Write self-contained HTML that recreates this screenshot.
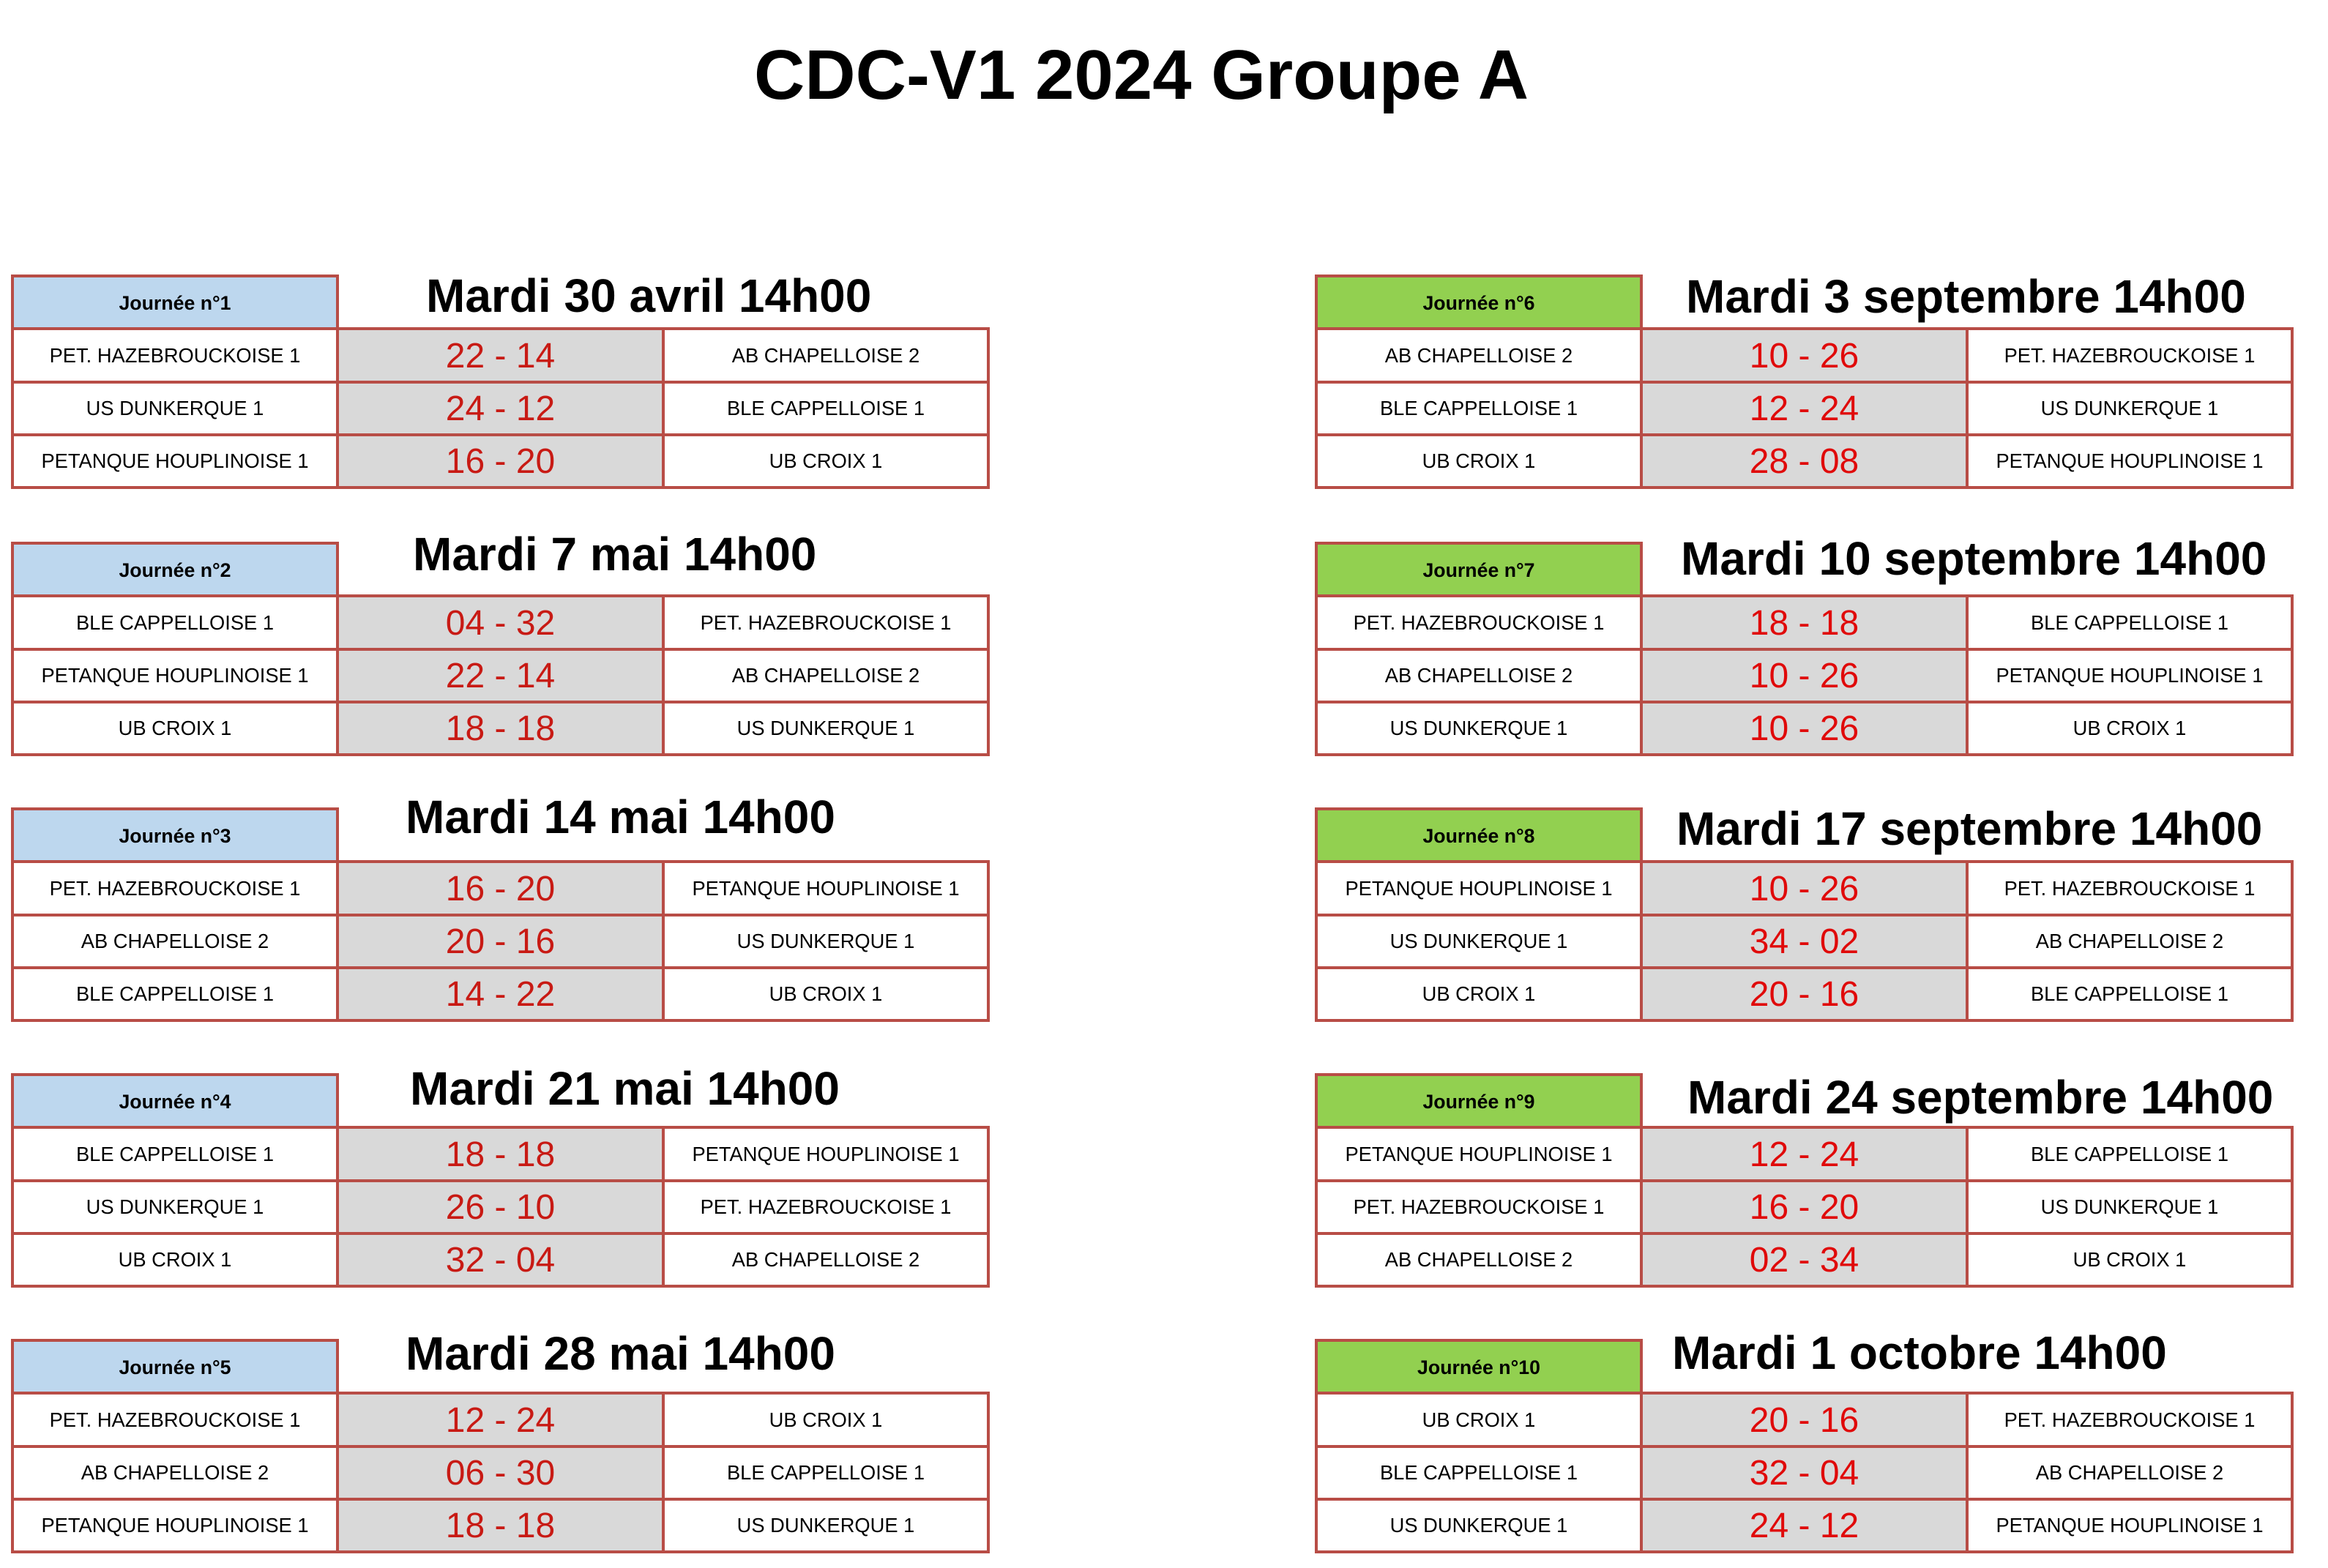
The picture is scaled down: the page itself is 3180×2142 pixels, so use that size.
<!DOCTYPE html>
<html><head><meta charset="utf-8">
<style>
html,body{margin:0;padding:0;background:#fff}
body{width:3180px;height:2142px;position:relative;overflow:hidden;font-family:"Liberation Sans",Arial,sans-serif}
.main{position:absolute;left:0;top:55px;width:3118px;text-align:center;font:bold 96px/96px "Liberation Sans",Arial,sans-serif;color:#000;white-space:nowrap}
.d{position:absolute;font:bold 64px/64px "Liberation Sans",Arial,sans-serif;color:#000;white-space:nowrap}
.b{position:absolute;width:1337px;height:293px}
.hb{position:absolute;left:2px;top:2px;width:444px;height:72px}
.blue{background:#bdd7ee}.green{background:#92d050}
.ht{position:absolute;left:4px;top:4px;width:440px;height:70px;display:flex;align-items:center;justify-content:center;font:bold 26.7px "Liberation Sans",Arial,sans-serif;color:#000;white-space:nowrap}
.sg{position:absolute;left:446px;top:74px;width:445px;height:217px;background:#d9d9d9}
.hl{position:absolute;left:0;height:4px;background:#b84d46}
.vl{position:absolute;width:4px;background:#b84d46}
.c{position:absolute;height:70px;display:flex;align-items:center;justify-content:center;white-space:nowrap}
.c1{left:4px;width:440px}.c2{left:448px;width:441px}.c3{left:893px;width:440px}
.r1{top:76px}.r2{top:148px}.r3{top:220px}
.t{font-size:27.3px;color:#000}
.s{font-size:48px;color:#c81a14}
.sr{font-size:48px;color:#e00a0a}
</style></head><body>

<div class="main">CDC-V1 2024 Groupe A</div>

<div class="d" style="left:582px;top:372px">Mardi 30 avril 14h00</div>
<div class="d" style="left:564px;top:725px">Mardi 7 mai 14h00</div>
<div class="d" style="left:554px;top:1084px">Mardi 14 mai 14h00</div>
<div class="d" style="left:560px;top:1455px">Mardi 21 mai 14h00</div>
<div class="d" style="left:554px;top:1817px">Mardi 28 mai 14h00</div>
<div class="d" style="left:2303px;top:373px">Mardi 3 septembre 14h00</div>
<div class="d" style="left:2296px;top:731px">Mardi 10 septembre 14h00</div>
<div class="d" style="left:2290px;top:1100px">Mardi 17 septembre 14h00</div>
<div class="d" style="left:2305px;top:1467px">Mardi 24 septembre 14h00</div>
<div class="d" style="left:2284px;top:1816px">Mardi 1 octobre 14h00</div>

<!-- J1 -->
<div class="b" style="left:15px;top:375px">
<div class="hb blue"></div><div class="sg"></div>
<div class="ht">Journée n°1</div>
<div class="c c1 r1 t">PET. HAZEBROUCKOISE 1</div><div class="c c2 r1 s">22 - 14</div><div class="c c3 r1 t">AB CHAPELLOISE 2</div>
<div class="c c1 r2 t">US DUNKERQUE 1</div><div class="c c2 r2 s">24 - 12</div><div class="c c3 r2 t">BLE CAPPELLOISE 1</div>
<div class="c c1 r3 t">PETANQUE HOUPLINOISE 1</div><div class="c c2 r3 s">16 - 20</div><div class="c c3 r3 t">UB CROIX 1</div>
<div class="hl" style="top:0;width:448px"></div><div class="hl" style="top:72px;width:1337px"></div><div class="hl" style="top:145px;width:1337px"></div><div class="hl" style="top:217px;width:1337px"></div><div class="hl" style="top:289px;width:1337px"></div>
<div class="vl" style="left:0;top:0;height:293px"></div><div class="vl" style="left:444px;top:0;height:293px"></div><div class="vl" style="left:889px;top:72px;height:221px"></div><div class="vl" style="left:1333px;top:72px;height:221px"></div>
</div>

<!-- J2 -->
<div class="b" style="left:15px;top:740px">
<div class="hb blue"></div><div class="sg"></div>
<div class="ht">Journée n°2</div>
<div class="c c1 r1 t">BLE CAPPELLOISE 1</div><div class="c c2 r1 s">04 - 32</div><div class="c c3 r1 t">PET. HAZEBROUCKOISE 1</div>
<div class="c c1 r2 t">PETANQUE HOUPLINOISE 1</div><div class="c c2 r2 s">22 - 14</div><div class="c c3 r2 t">AB CHAPELLOISE 2</div>
<div class="c c1 r3 t">UB CROIX 1</div><div class="c c2 r3 s">18 - 18</div><div class="c c3 r3 t">US DUNKERQUE 1</div>
<div class="hl" style="top:0;width:448px"></div><div class="hl" style="top:72px;width:1337px"></div><div class="hl" style="top:145px;width:1337px"></div><div class="hl" style="top:217px;width:1337px"></div><div class="hl" style="top:289px;width:1337px"></div>
<div class="vl" style="left:0;top:0;height:293px"></div><div class="vl" style="left:444px;top:0;height:293px"></div><div class="vl" style="left:889px;top:72px;height:221px"></div><div class="vl" style="left:1333px;top:72px;height:221px"></div>
</div>

<!-- J3 -->
<div class="b" style="left:15px;top:1103px">
<div class="hb blue"></div><div class="sg"></div>
<div class="ht">Journée n°3</div>
<div class="c c1 r1 t">PET. HAZEBROUCKOISE 1</div><div class="c c2 r1 s">16 - 20</div><div class="c c3 r1 t">PETANQUE HOUPLINOISE 1</div>
<div class="c c1 r2 t">AB CHAPELLOISE 2</div><div class="c c2 r2 s">20 - 16</div><div class="c c3 r2 t">US DUNKERQUE 1</div>
<div class="c c1 r3 t">BLE CAPPELLOISE 1</div><div class="c c2 r3 s">14 - 22</div><div class="c c3 r3 t">UB CROIX 1</div>
<div class="hl" style="top:0;width:448px"></div><div class="hl" style="top:72px;width:1337px"></div><div class="hl" style="top:145px;width:1337px"></div><div class="hl" style="top:217px;width:1337px"></div><div class="hl" style="top:289px;width:1337px"></div>
<div class="vl" style="left:0;top:0;height:293px"></div><div class="vl" style="left:444px;top:0;height:293px"></div><div class="vl" style="left:889px;top:72px;height:221px"></div><div class="vl" style="left:1333px;top:72px;height:221px"></div>
</div>

<!-- J4 -->
<div class="b" style="left:15px;top:1466px">
<div class="hb blue"></div><div class="sg"></div>
<div class="ht">Journée n°4</div>
<div class="c c1 r1 t">BLE CAPPELLOISE 1</div><div class="c c2 r1 s">18 - 18</div><div class="c c3 r1 t">PETANQUE HOUPLINOISE 1</div>
<div class="c c1 r2 t">US DUNKERQUE 1</div><div class="c c2 r2 s">26 - 10</div><div class="c c3 r2 t">PET. HAZEBROUCKOISE 1</div>
<div class="c c1 r3 t">UB CROIX 1</div><div class="c c2 r3 s">32 - 04</div><div class="c c3 r3 t">AB CHAPELLOISE 2</div>
<div class="hl" style="top:0;width:448px"></div><div class="hl" style="top:72px;width:1337px"></div><div class="hl" style="top:145px;width:1337px"></div><div class="hl" style="top:217px;width:1337px"></div><div class="hl" style="top:289px;width:1337px"></div>
<div class="vl" style="left:0;top:0;height:293px"></div><div class="vl" style="left:444px;top:0;height:293px"></div><div class="vl" style="left:889px;top:72px;height:221px"></div><div class="vl" style="left:1333px;top:72px;height:221px"></div>
</div>

<!-- J5 -->
<div class="b" style="left:15px;top:1829px">
<div class="hb blue"></div><div class="sg"></div>
<div class="ht">Journée n°5</div>
<div class="c c1 r1 t">PET. HAZEBROUCKOISE 1</div><div class="c c2 r1 s">12 - 24</div><div class="c c3 r1 t">UB CROIX 1</div>
<div class="c c1 r2 t">AB CHAPELLOISE 2</div><div class="c c2 r2 s">06 - 30</div><div class="c c3 r2 t">BLE CAPPELLOISE 1</div>
<div class="c c1 r3 t">PETANQUE HOUPLINOISE 1</div><div class="c c2 r3 s">18 - 18</div><div class="c c3 r3 t">US DUNKERQUE 1</div>
<div class="hl" style="top:0;width:448px"></div><div class="hl" style="top:72px;width:1337px"></div><div class="hl" style="top:145px;width:1337px"></div><div class="hl" style="top:217px;width:1337px"></div><div class="hl" style="top:289px;width:1337px"></div>
<div class="vl" style="left:0;top:0;height:293px"></div><div class="vl" style="left:444px;top:0;height:293px"></div><div class="vl" style="left:889px;top:72px;height:221px"></div><div class="vl" style="left:1333px;top:72px;height:221px"></div>
</div>

<!-- J6 -->
<div class="b" style="left:1796px;top:375px">
<div class="hb green"></div><div class="sg"></div>
<div class="ht">Journée n°6</div>
<div class="c c1 r1 t">AB CHAPELLOISE 2</div><div class="c c2 r1 sr">10 - 26</div><div class="c c3 r1 t">PET. HAZEBROUCKOISE 1</div>
<div class="c c1 r2 t">BLE CAPPELLOISE 1</div><div class="c c2 r2 sr">12 - 24</div><div class="c c3 r2 t">US DUNKERQUE 1</div>
<div class="c c1 r3 t">UB CROIX 1</div><div class="c c2 r3 sr">28 - 08</div><div class="c c3 r3 t">PETANQUE HOUPLINOISE 1</div>
<div class="hl" style="top:0;width:448px"></div><div class="hl" style="top:72px;width:1337px"></div><div class="hl" style="top:145px;width:1337px"></div><div class="hl" style="top:217px;width:1337px"></div><div class="hl" style="top:289px;width:1337px"></div>
<div class="vl" style="left:0;top:0;height:293px"></div><div class="vl" style="left:444px;top:0;height:293px"></div><div class="vl" style="left:889px;top:72px;height:221px"></div><div class="vl" style="left:1333px;top:72px;height:221px"></div>
</div>

<!-- J7 -->
<div class="b" style="left:1796px;top:740px">
<div class="hb green"></div><div class="sg"></div>
<div class="ht">Journée n°7</div>
<div class="c c1 r1 t">PET. HAZEBROUCKOISE 1</div><div class="c c2 r1 sr">18 - 18</div><div class="c c3 r1 t">BLE CAPPELLOISE 1</div>
<div class="c c1 r2 t">AB CHAPELLOISE 2</div><div class="c c2 r2 sr">10 - 26</div><div class="c c3 r2 t">PETANQUE HOUPLINOISE 1</div>
<div class="c c1 r3 t">US DUNKERQUE 1</div><div class="c c2 r3 sr">10 - 26</div><div class="c c3 r3 t">UB CROIX 1</div>
<div class="hl" style="top:0;width:448px"></div><div class="hl" style="top:72px;width:1337px"></div><div class="hl" style="top:145px;width:1337px"></div><div class="hl" style="top:217px;width:1337px"></div><div class="hl" style="top:289px;width:1337px"></div>
<div class="vl" style="left:0;top:0;height:293px"></div><div class="vl" style="left:444px;top:0;height:293px"></div><div class="vl" style="left:889px;top:72px;height:221px"></div><div class="vl" style="left:1333px;top:72px;height:221px"></div>
</div>

<!-- J8 -->
<div class="b" style="left:1796px;top:1103px">
<div class="hb green"></div><div class="sg"></div>
<div class="ht">Journée n°8</div>
<div class="c c1 r1 t">PETANQUE HOUPLINOISE 1</div><div class="c c2 r1 sr">10 - 26</div><div class="c c3 r1 t">PET. HAZEBROUCKOISE 1</div>
<div class="c c1 r2 t">US DUNKERQUE 1</div><div class="c c2 r2 sr">34 - 02</div><div class="c c3 r2 t">AB CHAPELLOISE 2</div>
<div class="c c1 r3 t">UB CROIX 1</div><div class="c c2 r3 sr">20 - 16</div><div class="c c3 r3 t">BLE CAPPELLOISE 1</div>
<div class="hl" style="top:0;width:448px"></div><div class="hl" style="top:72px;width:1337px"></div><div class="hl" style="top:145px;width:1337px"></div><div class="hl" style="top:217px;width:1337px"></div><div class="hl" style="top:289px;width:1337px"></div>
<div class="vl" style="left:0;top:0;height:293px"></div><div class="vl" style="left:444px;top:0;height:293px"></div><div class="vl" style="left:889px;top:72px;height:221px"></div><div class="vl" style="left:1333px;top:72px;height:221px"></div>
</div>

<!-- J9 -->
<div class="b" style="left:1796px;top:1466px">
<div class="hb green"></div><div class="sg"></div>
<div class="ht">Journée n°9</div>
<div class="c c1 r1 t">PETANQUE HOUPLINOISE 1</div><div class="c c2 r1 sr">12 - 24</div><div class="c c3 r1 t">BLE CAPPELLOISE 1</div>
<div class="c c1 r2 t">PET. HAZEBROUCKOISE 1</div><div class="c c2 r2 sr">16 - 20</div><div class="c c3 r2 t">US DUNKERQUE 1</div>
<div class="c c1 r3 t">AB CHAPELLOISE 2</div><div class="c c2 r3 sr">02 - 34</div><div class="c c3 r3 t">UB CROIX 1</div>
<div class="hl" style="top:0;width:448px"></div><div class="hl" style="top:72px;width:1337px"></div><div class="hl" style="top:145px;width:1337px"></div><div class="hl" style="top:217px;width:1337px"></div><div class="hl" style="top:289px;width:1337px"></div>
<div class="vl" style="left:0;top:0;height:293px"></div><div class="vl" style="left:444px;top:0;height:293px"></div><div class="vl" style="left:889px;top:72px;height:221px"></div><div class="vl" style="left:1333px;top:72px;height:221px"></div>
</div>

<!-- J10 -->
<div class="b" style="left:1796px;top:1829px">
<div class="hb green"></div><div class="sg"></div>
<div class="ht">Journée n°10</div>
<div class="c c1 r1 t">UB CROIX 1</div><div class="c c2 r1 sr">20 - 16</div><div class="c c3 r1 t">PET. HAZEBROUCKOISE 1</div>
<div class="c c1 r2 t">BLE CAPPELLOISE 1</div><div class="c c2 r2 sr">32 - 04</div><div class="c c3 r2 t">AB CHAPELLOISE 2</div>
<div class="c c1 r3 t">US DUNKERQUE 1</div><div class="c c2 r3 sr">24 - 12</div><div class="c c3 r3 t">PETANQUE HOUPLINOISE 1</div>
<div class="hl" style="top:0;width:448px"></div><div class="hl" style="top:72px;width:1337px"></div><div class="hl" style="top:145px;width:1337px"></div><div class="hl" style="top:217px;width:1337px"></div><div class="hl" style="top:289px;width:1337px"></div>
<div class="vl" style="left:0;top:0;height:293px"></div><div class="vl" style="left:444px;top:0;height:293px"></div><div class="vl" style="left:889px;top:72px;height:221px"></div><div class="vl" style="left:1333px;top:72px;height:221px"></div>
</div>

</body></html>
